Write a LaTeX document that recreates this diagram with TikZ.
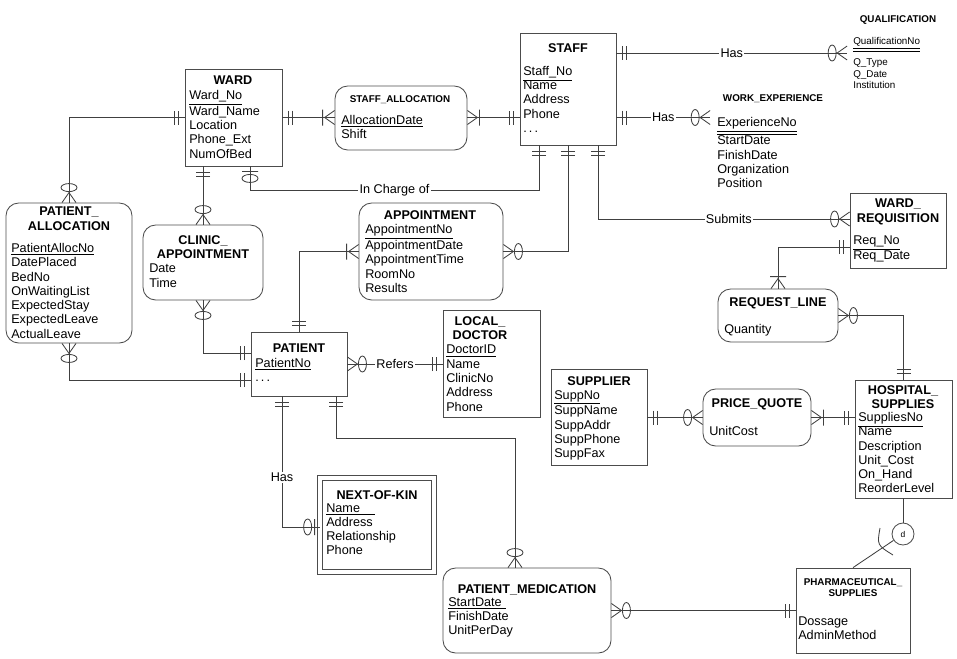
\documentclass[tikz,border=0pt]{standalone}
\usepackage{fontspec}
\setmainfont{Liberation Sans}
\usetikzlibrary{positioning}

\tikzset{
    ent/.style={draw=black!70, line width=0.6pt},
    sz/.style 2 args={minimum width=#1*0.025cm, minimum height=#2*0.025cm, inner sep=0pt},
    rnd/.style={rounded corners=9pt},
    dbl/.style={double, double distance=3.2pt, line width=0.5pt},
    ttl/.style={anchor=north, align=center, inner sep=0pt, font=\fontsize{9}{10.2}\selectfont\bfseries},
    sttl/.style={anchor=north, align=center, inner sep=0pt, font=\fontsize{7}{8.4}\selectfont\bfseries},
    attr/.style={anchor=north west, align=left, inner sep=0pt, font=\fontsize{9}{10.15}\selectfont},
    sattr/.style={anchor=north west, align=left, inner sep=0pt, font=\fontsize{7}{8.2}\selectfont},
    lbl/.style={fill=white, inner sep=1pt, font=\fontsize{9}{10}\selectfont},
    rel/.style={draw=black!75, line width=0.6pt},
    mone/.pic={\draw[rel] (6,-7)--(6,7) (10,-7)--(10,7);},
    zmany/.pic={\draw[rel] (0,-7)--(10,0)--(0,7) (15,0) ellipse [x radius=4, y radius=8];},
    omany/.pic={\draw[rel] (0,-7)--(10,0)--(0,7) (12,-8)--(12,8);},
    zone/.pic={\draw[rel] (5,-8)--(5,8) (12,0) ellipse [x radius=4, y radius=8];},
}

\begin{document}
\begin{tikzpicture}[x=0.025cm, y=-0.025cm]
    \useasboundingbox (0,0) rectangle (957,658);

    % entities
    \node[ent, sz={97}{97}] (ward) at (233.5,117.5) {};
    \node[ent, rnd, sz={132}{64}] (salloc) at (401,118) {};
    \node[ent, sz={96}{112}] (staff) at (568,89) {};
    \node[ent, dbl, sz={101}{91}] (qual) at (898,53) {};
    \node[ent, dbl, sz={125}{101}] (wexp) at (773,139) {};
    \node[ent, sz={96}{75}] (wreq) at (898,230.5) {};
    \node[ent, rnd, sz={126}{140}] (palloc) at (69,273) {};
    \node[ent, rnd, sz={120}{75}] (clinic) at (203,262.5) {};
    \node[ent, rnd, sz={144}{97}] (appt) at (431,251.5) {};
    \node[ent, rnd, sz={120}{53}] (rline) at (778,315.5) {};
    \node[ent, sz={96}{64}] (patient) at (299,364) {};
    \node[ent, sz={97}{107}] (ldoc) at (491.5,363.5) {};
    \node[ent, sz={96}{96}] (supp) at (599,417) {};
    \node[ent, rnd, sz={108}{57}] (pquote) at (757,417.5) {};
    \node[ent, sz={97}{118}] (hsupp) at (903.5,439) {};
    \node[ent, dbl, sz={114}{94}] (nok) at (377,525) {};
    \node[ent, rnd, sz={168}{85}] (pmed) at (527,610.5) {};
    \node[ent, sz={114}{85}] (pharm) at (853,610.5) {};
    \node[ent, circle, sz={22}{22}, font=\fontsize{6}{7}\selectfont] (dcirc) at (903,534) {d};

    % texts
    \node[ttl] (wardT) at (233,76) {WARD};
    \node[attr] (wardA) at (189,90) {\underline{Ward\_No}\\Ward\_Name\\Location\\Phone\_Ext\\NumOfBed};
    \node[sttl] (sallocT) at (400,95) {STAFF\_ALLOCATION};
    \node[attr] (sallocA) at (341,115) {\underline{AllocationDate}\\Shift};
    \node[ttl] (staffT) at (568,43) {STAFF};
    \node[attr] (staffA) at (523,66) {\underline{Staff\_No}\\Name\\Address\\Phone\\.\,.\,.};
    \node[sttl] (qualT) at (898,15) {QUALIFICATION};
    \node[sattr] (qualA) at (853,37) {\underline{\underline{QualificationNo}}\\[4pt]Q\_Type\\Q\_Date\\Institution};
    \node[sttl] (wexpT) at (773,94) {WORK\_EXPERIENCE};
    \node[attr] (wexpA) at (717,117) {\underline{\underline{ExperienceNo}}\\StartDate\\FinishDate\\Organization\\Position};
    \node[ttl] (wreqT) at (898,199) {WARD\_\\REQUISITION};
    \node[attr] (wreqA) at (853,236) {\underline{Req\_No}\\Req\_Date};
    \node[ttl] (pallocT) at (69,207) {PATIENT\_\\ALLOCATION};
    \node[attr] (pallocA) at (11,243) {\underline{PatientAllocNo}\\DatePlaced\\BedNo\\OnWaitingList\\ExpectedStay\\ExpectedLeave\\ActualLeave};
    \node[ttl] (clinicT) at (203,235) {CLINIC\_\\APPOINTMENT};
    \node[attr] (clinicA) at (149,264) {Date\\Time};
    \node[ttl] (apptT) at (430,210) {APPOINTMENT};
    \node[attr] (apptA) at (365,224) {\underline{AppointmentNo}\\AppointmentDate\\AppointmentTime\\RoomNo\\Results};
    \node[ttl] (rlineT) at (778,297) {REQUEST\_LINE};
    \node[attr] (rlineA) at (724,324) {Quantity};
    \node[ttl] (patientT) at (299,344) {PATIENT};
    \node[attr] (patientA) at (255,358) {\underline{PatientNo}\\.\,.\,.};
    \node[ttl] (ldocT) at (480,316) {LOCAL\_\\DOCTOR};
    \node[attr] (ldocA) at (446,345) {\underline{DoctorID}\\Name\\ClinicNo\\Address\\Phone};
    \node[ttl] (suppT) at (599,376) {SUPPLIER};
    \node[attr] (suppA) at (554,390) {\underline{SuppNo}\\SuppName\\SuppAddr\\SuppPhone\\SuppFax};
    \node[ttl] (pquoteT) at (757,398) {PRICE\_QUOTE};
    \node[attr] (pquoteA) at (709,426) {UnitCost};
    \node[ttl] (hsuppT) at (903,385) {HOSPITAL\_\\SUPPLIES};
    \node[attr] (hsuppA) at (858,412) {\underline{SuppliesNo}\\Name\\Description\\Unit\_Cost\\On\_Hand\\ReorderLevel};
    \node[ttl] (nokT) at (377,490) {NEXT-OF-KIN};
    \node[attr] (nokA) at (326,503) {\underline{Name\hspace{1.2em}}\\Address\\Relationship\\Phone};
    \node[ttl] (pmedT) at (527,584) {PATIENT\_MEDICATION};
    \node[attr] (pmedA) at (448,597) {\underline{StartDate\hspace{0.3em}}\\FinishDate\\UnitPerDay};
    \node[sttl] (pharmT) at (853,578) {PHARMACEUTICAL\_\\SUPPLIES};
    \node[attr] (pharmA) at (798,616) {Dossage\\AdminMethod};

    % relationships
    \draw[rel] (ward.west) -| (palloc.north);
    \pic[rotate=180] at (ward.west) {mone};
    \pic[rotate=90] at (palloc.north) {zmany};

    \draw[rel] (ward.east) -- (salloc.west |- ward.east);
    \pic at (ward.east) {mone};
    \pic[rotate=180] at (salloc.west |- ward.east) {omany};

    \draw[rel] (salloc.east |- ward.east) -- (staff.west |- ward.east);
    \pic at (salloc.east |- ward.east) {omany};
    \pic[rotate=180] at (staff.west |- ward.east) {mone};

    \draw[rel] (ward.south -| clinic.north) -- (clinic.north);
    \pic[rotate=270] at (ward.south -| clinic.north) {mone};
    \pic[rotate=90] at (clinic.north) {zmany};

    \draw[rel] (ward.south -| 250,0) -- ++(0,24) -| node[lbl, pos=0.25]{In Charge of} (staff.south -| 539,0);
    \pic[rotate=270] at (ward.south -| 250,0) {zone};
    \pic[rotate=270] at (staff.south -| 539,0) {mone};

    \draw[rel] (staff.south) |- (appt.east);
    \pic[rotate=270] at (staff.south) {mone};
    \pic at (appt.east) {zmany};

    \draw[rel] (staff.south -| 598,0) |- node[lbl, pos=0.76]{Submits} (wreq.west |- 0,219);
    \pic[rotate=270] at (staff.south -| 598,0) {mone};
    \pic[rotate=180] at (wreq.west |- 0,219) {zmany};

    \draw[rel] (staff.east |- qual.west) -- node[lbl]{Has} (qual.west);
    \pic at (staff.east |- qual.west) {mone};
    \pic[rotate=180] at (qual.west) {zmany};

    \draw[rel] (staff.east |- ward.east) -- node[lbl]{Has} (wexp.west |- ward.east);
    \pic at (staff.east |- ward.east) {mone};
    \pic[rotate=180] at (wexp.west |- ward.east) {zmany};

    \draw[rel] (wreq.west |- 0,247) -| (rline.north);
    \pic[rotate=180] at (wreq.west |- 0,247) {mone};
    \pic[rotate=90] at (rline.north) {omany};

    \draw[rel] (rline.east) -| (hsupp.north);
    \pic at (rline.east) {zmany};
    \pic[rotate=90] at (hsupp.north) {mone};

    \draw[rel] (clinic.south) |- (patient.west |- 0,353);
    \pic[rotate=270] at (clinic.south) {zmany};
    \pic[rotate=180] at (patient.west |- 0,353) {mone};

    \draw[rel] (palloc.south) |- (patient.west |- 0,380);
    \pic[rotate=270] at (palloc.south) {zmany};
    \pic[rotate=180] at (patient.west |- 0,380) {mone};

    \draw[rel] (appt.west) -| (patient.north);
    \pic[rotate=180] at (appt.west) {omany};
    \pic[rotate=90] at (patient.north) {mone};

    \draw[rel] (patient.east) -- node[lbl]{Refers} (ldoc.west |- patient.east);
    \pic at (patient.east) {zmany};
    \pic[rotate=180] at (ldoc.west |- patient.east) {mone};

    \draw[rel] (patient.south -| 282,0) |- node[lbl, pos=0.31]{Has} (nok.west |- 0,527);
    \pic[rotate=270] at (patient.south -| 282,0) {mone};
    \pic[rotate=180] at (nok.west |- 0,527) {zone};

    \draw[rel] (patient.south -| 336,0) -- ++(0,42) -| (pmed.north -| 515,0);
    \pic[rotate=270] at (patient.south -| 336,0) {mone};
    \pic[rotate=90] at (pmed.north -| 515,0) {zmany};

    \draw[rel] (supp.east |- pquote.west) -- (pquote.west);
    \pic at (supp.east |- pquote.west) {mone};
    \pic[rotate=180] at (pquote.west) {zmany};

    \draw[rel] (pquote.east) -- (hsupp.west |- pquote.east);
    \pic at (pquote.east) {omany};
    \pic[rotate=180] at (hsupp.west |- pquote.east) {mone};

    \draw[rel] (pmed.east) -- (pharm.west);
    \pic at (pmed.east) {zmany};
    \pic[rotate=180] at (pharm.west) {mone};

    % subtype
    \draw[rel] (hsupp.south -| dcirc) -- (dcirc);
    \draw[rel] (dcirc) -- (pharm.north);
    \draw[rel] (880,528) .. controls (877,545) .. (893,555);
\end{tikzpicture}
\end{document}
